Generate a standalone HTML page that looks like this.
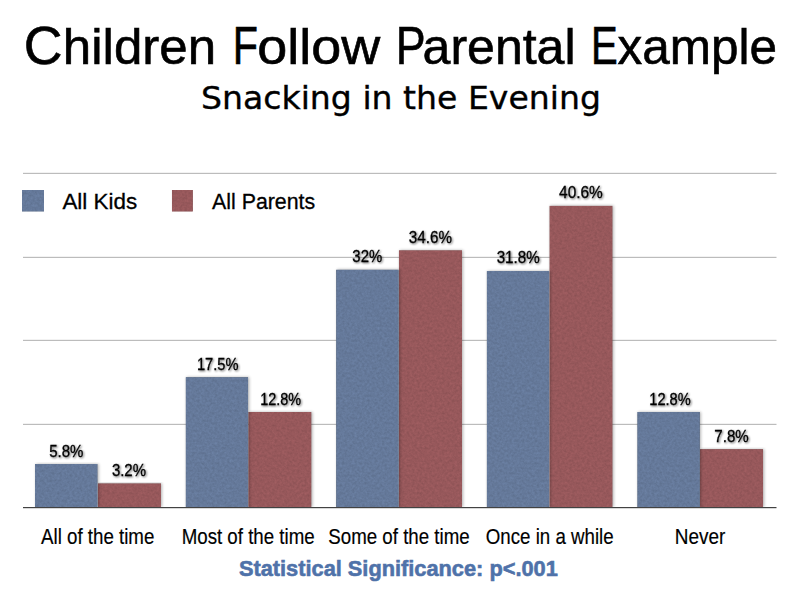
<!DOCTYPE html>
<html><head><meta charset="utf-8"><title>Children Follow Parental Example</title>
<style>
html,body{margin:0;padding:0;background:#fff;}
body{width:800px;height:596px;overflow:hidden;}
svg{display:block;}
.t{font-family:"Liberation Sans",sans-serif;font-size:50px;fill:#000;stroke:#000;stroke-width:0.6px;}
.tc{font-family:"Liberation Sans",sans-serif;font-size:53px;fill:#000;stroke:#000;stroke-width:0.6px;}
.s{font-family:"DejaVu Sans",sans-serif;font-size:32px;fill:#000;stroke:#000;stroke-width:0.35px;}
.v{font-family:"Liberation Sans",sans-serif;font-size:17px;fill:#000;stroke:#000;stroke-width:0.3px;}
.l{font-family:"Liberation Sans",sans-serif;font-size:21.5px;fill:#000;stroke:#000;stroke-width:0.3px;}
.c{font-family:"Liberation Sans",sans-serif;font-size:22.5px;fill:#000;stroke:#000;stroke-width:0.2px;}
.f{font-family:"Liberation Sans",sans-serif;font-size:22.5px;font-weight:bold;fill:#4f72a9;stroke:#4f72a9;stroke-width:0.6px;}
</style></head>
<body>
<svg width="800" height="596" viewBox="0 0 800 596">
<defs>
<filter id="bar" x="-10%" y="-3%" width="125%" height="106%" color-interpolation-filters="sRGB">
<feGaussianBlur in="SourceAlpha" stdDeviation="1.5" result="b"/>
<feOffset in="b" dx="1.4" dy="0" result="o"/>
<feComponentTransfer in="o" result="s"><feFuncA type="linear" slope="0.3"/></feComponentTransfer>
<feTurbulence type="fractalNoise" baseFrequency="0.4" numOctaves="3" seed="7" result="n"/>
<feColorMatrix in="n" type="matrix" values="1 0 0 0 0  1 0 0 0 0  1 0 0 0 0  0 0 0 0 1" result="g"/>
<feComposite in="g" in2="SourceGraphic" operator="arithmetic" k1="0.2" k2="0" k3="0.9" k4="0" result="tx"/>
<feComposite in="tx" in2="SourceAlpha" operator="in" result="t2"/>
<feMerge><feMergeNode in="s"/><feMergeNode in="t2"/></feMerge></filter>
<filter id="sq" x="0" y="0" width="100%" height="100%" color-interpolation-filters="sRGB">
<feTurbulence type="fractalNoise" baseFrequency="0.4" numOctaves="3" seed="3" result="n"/>
<feColorMatrix in="n" type="matrix" values="1 0 0 0 0  1 0 0 0 0  1 0 0 0 0  0 0 0 0 1" result="g"/>
<feComposite in="g" in2="SourceGraphic" operator="arithmetic" k1="0.2" k2="0" k3="0.9" k4="0" result="tx"/>
<feComposite in="tx" in2="SourceAlpha" operator="in"/></filter>
<filter id="tsh" x="-20%" y="-30%" width="150%" height="180%">
<feGaussianBlur in="SourceAlpha" stdDeviation="0.9"/><feOffset dx="0.9" dy="1.3" result="o"/>
<feComponentTransfer><feFuncA type="linear" slope="0.6"/></feComponentTransfer>
<feMerge><feMergeNode/><feMergeNode in="SourceGraphic"/></feMerge></filter>
<clipPath id="cp"><rect x="0" y="0" width="800" height="507.5"/></clipPath>
</defs>
<text y="63.6" class="t"><tspan x="23.78" class="tc" textLength="38.76" lengthAdjust="spacingAndGlyphs">C</tspan><tspan x="62.84" class="t" textLength="153.23" lengthAdjust="spacingAndGlyphs">hildren</tspan> <tspan x="232.84" class="tc" textLength="25.24" lengthAdjust="spacingAndGlyphs">F</tspan><tspan x="257.16" class="t" textLength="122.94" lengthAdjust="spacingAndGlyphs">ollow</tspan> <tspan x="395.77" class="tc" textLength="29.82" lengthAdjust="spacingAndGlyphs">P</tspan><tspan x="422.59" class="t" textLength="152.97" lengthAdjust="spacingAndGlyphs">arental</tspan> <tspan x="591.12" class="tc" textLength="26.75" lengthAdjust="spacingAndGlyphs">E</tspan><tspan x="617.60" class="t" textLength="159.39" lengthAdjust="spacingAndGlyphs">xample</tspan></text>
<text x="201.00" y="109" class="s" textLength="400.00" lengthAdjust="spacingAndGlyphs">Snacking in the Evening</text>
<rect x="23" y="173" width="753.5" height="1" fill="#bcbcbc"/><rect x="23" y="172" width="753.5" height="1" fill="#f2f2f2"/><rect x="23" y="257" width="753.5" height="1" fill="#bcbcbc"/><rect x="23" y="256" width="753.5" height="1" fill="#f2f2f2"/><rect x="23" y="340" width="753.5" height="1" fill="#bcbcbc"/><rect x="23" y="339" width="753.5" height="1" fill="#f2f2f2"/><rect x="23" y="424" width="753.5" height="1" fill="#bcbcbc"/><rect x="23" y="423" width="753.5" height="1" fill="#f2f2f2"/>
<g clip-path="url(#cp)">
<rect x="97.70" y="483.25" width="63.30" height="23.75" fill="#97585b" filter="url(#bar)"/><rect x="35.00" y="463.95" width="62.70" height="43.05" fill="#65799a" filter="url(#bar)"/><rect x="248.25" y="412.00" width="63.30" height="95.00" fill="#97585b" filter="url(#bar)"/><rect x="185.55" y="377.11" width="62.70" height="129.89" fill="#65799a" filter="url(#bar)"/><rect x="398.80" y="250.19" width="63.30" height="256.81" fill="#97585b" filter="url(#bar)"/><rect x="336.10" y="269.49" width="62.70" height="237.51" fill="#65799a" filter="url(#bar)"/><rect x="549.35" y="205.66" width="63.30" height="301.34" fill="#97585b" filter="url(#bar)"/><rect x="486.65" y="270.97" width="62.70" height="236.03" fill="#65799a" filter="url(#bar)"/><rect x="699.90" y="449.11" width="63.30" height="57.89" fill="#97585b" filter="url(#bar)"/><rect x="637.20" y="412.00" width="62.70" height="95.00" fill="#65799a" filter="url(#bar)"/>
</g>
<rect x="23" y="507" width="753.5" height="1" fill="#424242"/><rect x="23" y="508" width="753.5" height="1" fill="#d8d8d8"/>
<rect x="22" y="190" width="22" height="21.7" fill="#65799a" filter="url(#sq)"/>
<rect x="171.8" y="190" width="21.1" height="21.7" fill="#97585b" filter="url(#sq)"/>
<text x="62.40" y="209" class="l" textLength="74.75" lengthAdjust="spacingAndGlyphs">All Kids</text><text x="212.00" y="209" class="l" textLength="103.22" lengthAdjust="spacingAndGlyphs">All Parents</text>
<g filter="url(#tsh)">
<text x="49.19" y="456.75" class="v" textLength="34.24" lengthAdjust="spacingAndGlyphs">5.8%</text><text x="111.89" y="475.8" class="v" textLength="34.14" lengthAdjust="spacingAndGlyphs">3.2%</text><text x="196.97" y="370" class="v" textLength="41.55" lengthAdjust="spacingAndGlyphs">17.5%</text><text x="260.28" y="404.65" class="v" textLength="40.93" lengthAdjust="spacingAndGlyphs">12.8%</text><text x="352.35" y="262.2" class="v" textLength="29.82" lengthAdjust="spacingAndGlyphs">32%</text><text x="408.86" y="243" class="v" textLength="43.07" lengthAdjust="spacingAndGlyphs">34.6%</text><text x="496.66" y="263" class="v" textLength="43.07" lengthAdjust="spacingAndGlyphs">31.8%</text><text x="559.08" y="198" class="v" textLength="43.76" lengthAdjust="spacingAndGlyphs">40.6%</text><text x="649.27" y="404.8" class="v" textLength="41.45" lengthAdjust="spacingAndGlyphs">12.8%</text><text x="714.30" y="442.1" class="v" textLength="34.43" lengthAdjust="spacingAndGlyphs">7.8%</text>
</g>
<text x="41.00" y="543.6" class="c" textLength="113.35" lengthAdjust="spacingAndGlyphs">All of the time</text><text x="181.67" y="543.6" class="c" textLength="132.99" lengthAdjust="spacingAndGlyphs">Most of the time</text><text x="328.29" y="543.6" class="c" textLength="141.41" lengthAdjust="spacingAndGlyphs">Some of the time</text><text x="485.76" y="543.6" class="c" textLength="127.88" lengthAdjust="spacingAndGlyphs">Once in a while</text><text x="674.73" y="543.6" class="c" textLength="50.52" lengthAdjust="spacingAndGlyphs">Never</text>
<text x="238.95" y="575.5" class="f" textLength="318.84" lengthAdjust="spacingAndGlyphs">Statistical Significance: p&lt;.001</text>
</svg>
</body></html>
